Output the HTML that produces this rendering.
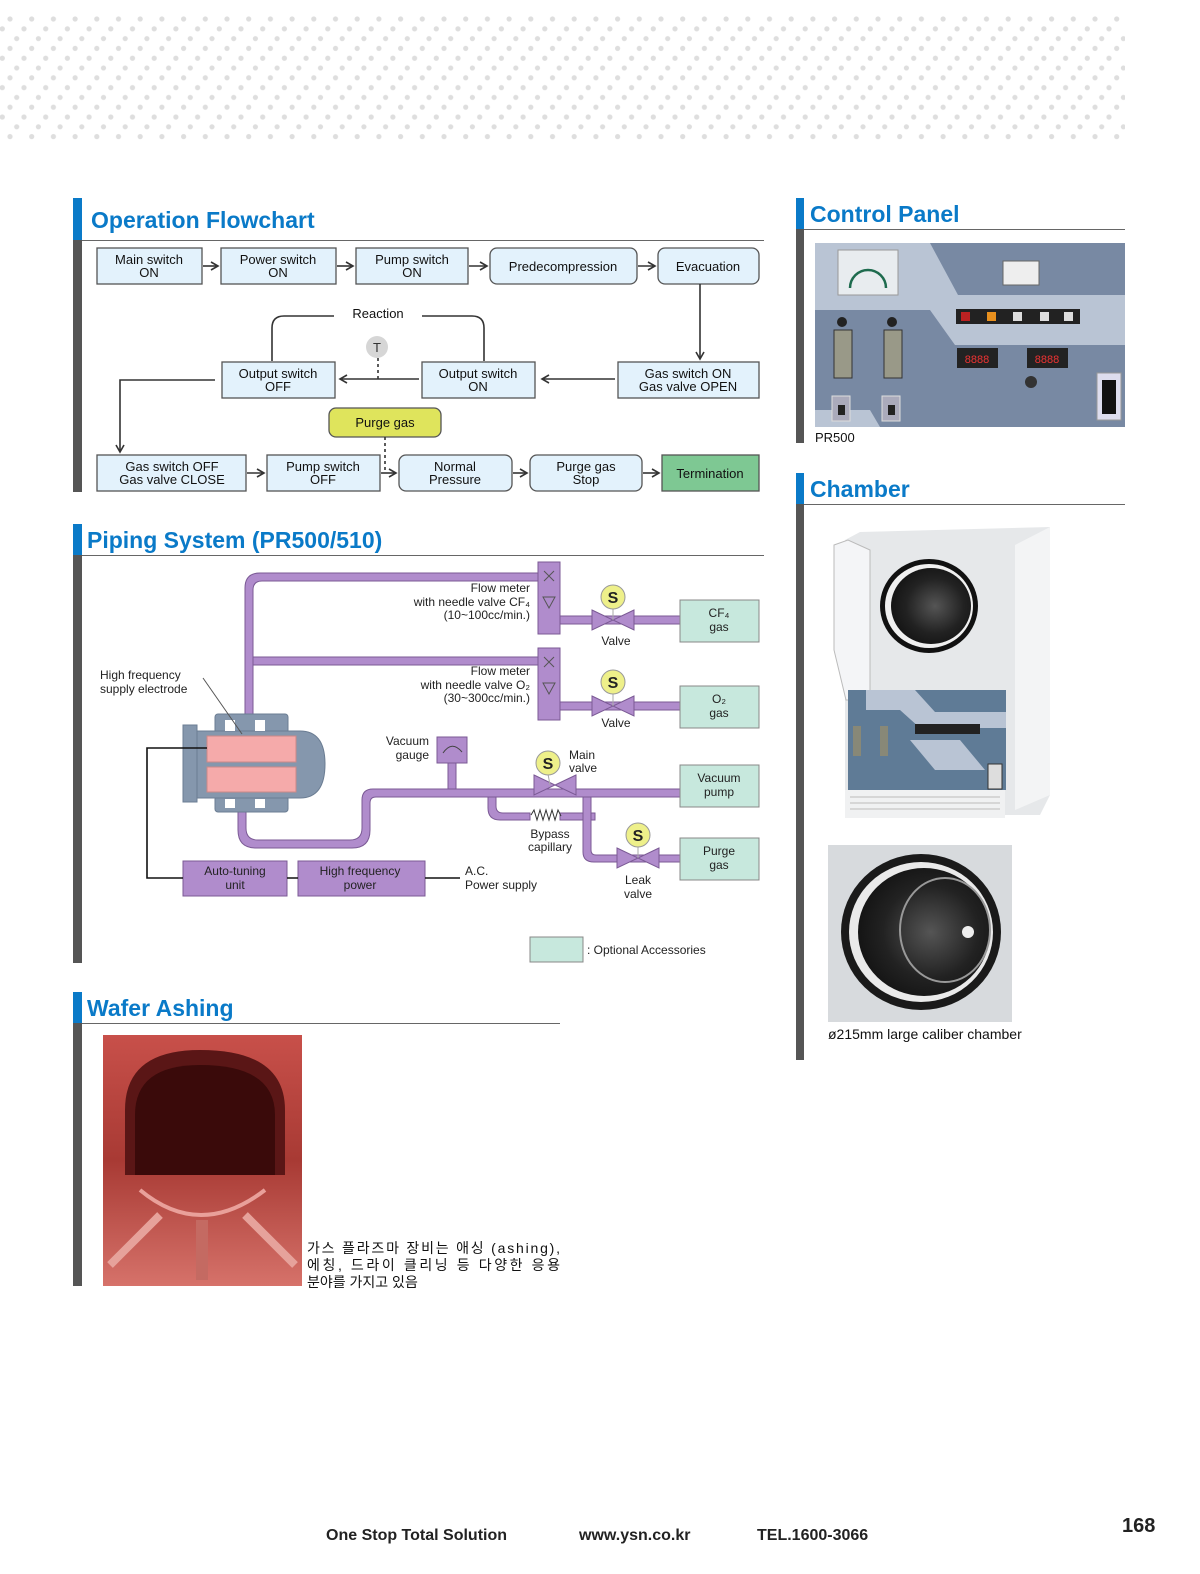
<!DOCTYPE html>
<html><head><meta charset="utf-8"><style>
html,body{margin:0;padding:0;background:#fff}
svg{display:block}
text{font-family:"Liberation Sans",Arial,sans-serif}
</style></head><body>
<svg width="1200" height="1574" viewBox="0 0 1200 1574" xmlns="http://www.w3.org/2000/svg">
<defs>
<pattern id="dots" x="0" y="15" width="21.7" height="29.4" patternUnits="userSpaceOnUse">
<circle cx="10" cy="4" r="2.6" fill="#dedede"/><circle cx="2.3" cy="13.8" r="2.6" fill="#dedede"/><circle cx="24" cy="13.8" r="2.6" fill="#dedede"/><circle cx="16.7" cy="23.6" r="2.6" fill="#dedede"/>
</pattern>
<marker id="ar" markerWidth="10" markerHeight="10" refX="8" refY="5" orient="auto" markerUnits="userSpaceOnUse"><path d="M1,1 L8,5 L1,9" fill="none" stroke="#333" stroke-width="1.6"/></marker>
<radialGradient id="win" cx="0.55" cy="0.5" r="0.6"><stop offset="0" stop-color="#555"/><stop offset="0.6" stop-color="#222"/><stop offset="1" stop-color="#111"/></radialGradient>
<linearGradient id="red" x1="0" y1="0" x2="0" y2="1"><stop offset="0" stop-color="#c8504a"/><stop offset="0.5" stop-color="#a83a34"/><stop offset="1" stop-color="#d6726a"/></linearGradient>
</defs>
<rect x="0" y="15" width="1125" height="125" fill="url(#dots)"/>

<!-- Section bars -->
<rect x="73" y="198" width="9" height="42" fill="#0a7ac8"/><rect x="73" y="240" width="9" height="252" fill="#555"/>
<rect x="73" y="524" width="9" height="31" fill="#0a7ac8"/><rect x="73" y="555" width="9" height="408" fill="#555"/>
<rect x="73" y="992" width="9" height="31" fill="#0a7ac8"/><rect x="73" y="1023" width="9" height="263" fill="#555"/>
<rect x="796" y="198" width="8" height="31" fill="#0a7ac8"/><rect x="796" y="229" width="8" height="214" fill="#555"/>
<rect x="796" y="473" width="8" height="31" fill="#0a7ac8"/><rect x="796" y="504" width="8" height="556" fill="#555"/>
<line x1="82" y1="240.5" x2="764" y2="240.5" stroke="#666"/>
<line x1="82" y1="555.5" x2="764" y2="555.5" stroke="#666"/>
<line x1="82" y1="1023.5" x2="560" y2="1023.5" stroke="#666"/>
<line x1="804" y1="229.5" x2="1125" y2="229.5" stroke="#666"/>
<line x1="804" y1="504.5" x2="1125" y2="504.5" stroke="#666"/>
<g fill="#0a7ac8" font-weight="bold" font-size="23">
<text x="91" y="228">Operation Flowchart</text>
<text x="87" y="548">Piping System (PR500/510)</text>
<text x="87" y="1016">Wafer Ashing</text>
<text x="810" y="222">Control Panel</text>
<text x="810" y="497">Chamber</text>
</g>

<!-- Flowchart -->
<g stroke="#555" stroke-width="1.3" fill="#e3f2fc">
<rect x="97" y="248" width="105" height="36"/>
<rect x="221" y="248" width="115" height="36"/>
<rect x="356" y="248" width="112" height="36"/>
<rect x="490" y="248" width="147" height="36" rx="7"/>
<rect x="658" y="248" width="101" height="36" rx="7"/>
<rect x="222" y="362" width="113" height="36"/>
<rect x="422" y="362" width="113" height="36"/>
<rect x="618" y="362" width="141" height="36"/>
<rect x="97" y="455" width="149" height="36"/>
<rect x="267" y="455" width="113" height="36"/>
<rect x="399" y="455" width="113" height="36" rx="7"/>
<rect x="530" y="455" width="112" height="36" rx="7"/>
<rect x="662" y="455" width="97" height="36" fill="#7ec893"/>
<rect x="329" y="408" width="112" height="29" rx="7" fill="#dfe45c"/>
</g>
<g font-size="13" fill="#111" text-anchor="middle">
<text x="149" y="264">Main switch</text><text x="149" y="277">ON</text>
<text x="278" y="264">Power switch</text><text x="278" y="277">ON</text>
<text x="412" y="264">Pump switch</text><text x="412" y="277">ON</text>
<text x="563" y="271">Predecompression</text>
<text x="708" y="271">Evacuation</text>
<text x="278" y="378">Output switch</text><text x="278" y="391">OFF</text>
<text x="478" y="378">Output switch</text><text x="478" y="391">ON</text>
<text x="688" y="378">Gas switch ON</text><text x="688" y="391">Gas valve OPEN</text>
<text x="172" y="471">Gas switch OFF</text><text x="172" y="484">Gas valve CLOSE</text>
<text x="323" y="471">Pump switch</text><text x="323" y="484">OFF</text>
<text x="455" y="471">Normal</text><text x="455" y="484">Pressure</text>
<text x="586" y="471">Purge gas</text><text x="586" y="484">Stop</text>
<text x="710" y="478">Termination</text>
<text x="385" y="427">Purge gas</text>
<text x="378" y="318">Reaction</text>
</g>
<g stroke="#333" stroke-width="1.6" fill="none">
<line x1="203" y1="266" x2="218" y2="266" marker-end="url(#ar)"/>
<line x1="337" y1="266" x2="353" y2="266" marker-end="url(#ar)"/>
<line x1="469" y1="266" x2="487" y2="266" marker-end="url(#ar)"/>
<line x1="638" y1="266" x2="655" y2="266" marker-end="url(#ar)"/>
<line x1="700" y1="284" x2="700" y2="359" marker-end="url(#ar)"/>
<line x1="615" y1="379" x2="542" y2="379" marker-end="url(#ar)"/>
<line x1="419" y1="379" x2="340" y2="379" marker-end="url(#ar)"/>
<path d="M215,380 H120 V452" marker-end="url(#ar)"/>
<line x1="247" y1="473" x2="264" y2="473" marker-end="url(#ar)"/>
<line x1="381" y1="473" x2="396" y2="473" marker-end="url(#ar)"/>
<line x1="513" y1="473" x2="527" y2="473" marker-end="url(#ar)"/>
<line x1="643" y1="473" x2="659" y2="473" marker-end="url(#ar)"/>
<path d="M272,361 V328 Q272,316 284,316 H334"/>
<path d="M422,316 H472 Q484,316 484,328 V361"/>
<line x1="378" y1="358" x2="378" y2="379" stroke-dasharray="3,3"/>
<line x1="385" y1="437" x2="385" y2="470" stroke-dasharray="3,3"/>
</g>
<circle cx="377" cy="347" r="11" fill="#d6d6d6"/>
<text x="377" y="352" font-size="13" text-anchor="middle" fill="#333">T</text>

<!-- Piping -->
<g stroke="#7b5a95" stroke-width="1" fill="#b08ccc">
<path d="M245,720 V588 Q245,573 260,573 H538 V581 H262 Q253,581 253,590 V720 Z"/>
<rect x="253" y="657" width="285" height="8"/>
<path d="M246,812 V828 Q246,840 258,840 H350 Q362,840 362,828 V800 Q362,789 373,789 H680 V797 H376 Q370,797 370,803 V830 Q370,848 352,848 H256 Q238,848 238,830 V812 Z"/>
<rect x="448" y="762" width="8" height="27"/>
<path d="M496,797 V806 Q496,813 503,813 H530 V820 H500 Q488,820 488,808 V797 Z"/>
<rect x="560" y="813" width="35" height="7"/>
<path d="M591,797 V850 Q591,855 596,855 H680 V862 H594 Q583,862 583,852 V797 Z"/>
<rect x="560" y="616" width="120" height="8"/>
<rect x="560" y="702" width="120" height="8"/>
<rect x="538" y="562" width="22" height="72"/>
<rect x="538" y="648" width="22" height="72"/>
<rect x="437" y="737" width="30" height="26"/>
<rect x="183" y="861" width="104" height="35"/>
<rect x="298" y="861" width="127" height="35"/>
</g>
<polyline points="531,815 534,810 537,820 540,810 543,820 546,810 549,820 552,810 555,820 558,810 561,816" fill="none" stroke="#333" stroke-width="1"/>
<path d="M443,753 Q452,740 462,752" fill="none" stroke="#444"/>
<g stroke="#555" stroke-width="1" fill="none">
<path d="M544,571 L554,581 M554,571 L544,581"/><path d="M543,597 H555 L549,608 Z"/>
<path d="M544,657 L554,667 M554,657 L544,667"/><path d="M543,683 H555 L549,694 Z"/>
</g>
<g fill="#b08ccc" stroke="#7b5a95">
<path d="M592,610 L613,620 L592,630 Z M634,610 L613,620 L634,630 Z"/>
<path d="M592,696 L613,706 L592,716 Z M634,696 L613,706 L634,716 Z"/>
<path d="M534,775 L555,785 L534,795 Z M576,775 L555,785 L576,795 Z"/>
<path d="M617,848 L638,858 L617,868 Z M659,848 L638,858 L659,868 Z"/>
</g>
<g stroke="#aaa"><line x1="613" y1="608" x2="613" y2="620"/><line x1="613" y1="693" x2="613" y2="706"/><line x1="548" y1="774" x2="550" y2="785"/><line x1="638" y1="846" x2="638" y2="858"/></g>
<g fill="#eef08a" stroke="#999">
<circle cx="613" cy="597" r="12"/><circle cx="613" cy="682" r="12"/><circle cx="548" cy="763" r="12"/><circle cx="638" cy="835" r="12"/>
</g>
<g font-size="16" font-weight="bold" text-anchor="middle" fill="#222">
<text x="613" y="603">S</text><text x="613" y="688">S</text><text x="548" y="769">S</text><text x="638" y="841">S</text>
</g>
<g fill="#8597ad" stroke="#6b7d93">
<rect x="215" y="714" width="73" height="20" rx="3"/>
<rect x="215" y="796" width="73" height="16" rx="3"/>
<path d="M197,731 H300 Q325,731 325,764 Q325,798 300,798 H197 Z"/>
<rect x="183" y="725" width="14" height="77"/>
</g>
<rect x="225" y="720" width="10" height="11" fill="#fff"/><rect x="255" y="720" width="10" height="11" fill="#fff"/>
<rect x="225" y="799" width="10" height="9" fill="#fff"/><rect x="255" y="799" width="10" height="9" fill="#fff"/>
<rect x="207" y="736" width="89" height="26" fill="#f5aaaa" stroke="#c88"/>
<rect x="207" y="767" width="89" height="25" fill="#f5aaaa" stroke="#c88"/>
<path d="M207,748 H147 V878 H183 M287,878 H298 M425,878 H460" fill="none" stroke="#111" stroke-width="1.6"/>
<line x1="203" y1="678" x2="242" y2="734" stroke="#555"/>
<g fill="#c7e8dd" stroke="#888">
<rect x="680" y="600" width="79" height="42"/><rect x="680" y="686" width="79" height="42"/>
<rect x="680" y="765" width="79" height="42"/><rect x="680" y="838" width="79" height="42"/>
<rect x="530" y="937" width="53" height="25"/>
</g>
<g font-size="12" fill="#222">
<g text-anchor="middle">
<text x="719" y="617">CF₄</text><text x="719" y="631">gas</text>
<text x="719" y="703">O₂</text><text x="719" y="717">gas</text>
<text x="719" y="782">Vacuum</text><text x="719" y="796">pump</text>
<text x="719" y="855">Purge</text><text x="719" y="869">gas</text>
<text x="616" y="645">Valve</text><text x="616" y="727">Valve</text>
<text x="550" y="838">Bypass</text><text x="550" y="851">capillary</text>
<text x="638" y="884">Leak</text><text x="638" y="898">valve</text>
<text x="235" y="875">Auto-tuning</text><text x="235" y="889">unit</text>
<text x="360" y="875">High frequency</text><text x="360" y="889">power</text>
</g>
<g text-anchor="end">
<text x="530" y="592">Flow meter</text><text x="530" y="606">with needle valve CF₄</text><text x="530" y="619">(10~100cc/min.)</text>
<text x="530" y="675">Flow meter</text><text x="530" y="689">with needle valve O₂</text><text x="530" y="702">(30~300cc/min.)</text>
<text x="429" y="745">Vacuum</text><text x="429" y="759">gauge</text>
</g>
<text x="569" y="759">Main</text><text x="569" y="772">valve</text>
<text x="100" y="679">High frequency</text><text x="100" y="693">supply electrode</text>
<text x="465" y="875">A.C.</text><text x="465" y="889">Power supply</text>
<text x="587" y="954">: Optional Accessories</text>
</g>

<!-- Control panel image -->
<rect x="815" y="243" width="310" height="184" fill="#7889a3"/>
<path d="M815,243 H930 L958,295 H1125 V345 H955 L930,310 H815 Z" fill="#b9c4d4"/>
<path d="M815,410 H870 L880,427 H815 Z" fill="#b9c4d4"/>
<path d="M955,345 L990,390 H1125 V345 Z" fill="#7889a3"/>
<rect x="838" y="250" width="60" height="45" fill="#e8ecef" stroke="#999"/>
<path d="M850,288 A18,18 0 0 1 886,288" fill="none" stroke="#1e6b4e" stroke-width="2.5"/>
<rect x="1003" y="261" width="36" height="24" fill="#eee" stroke="#666"/>
<rect x="956" y="309" width="124" height="15" fill="#222"/>
<rect x="961" y="312" width="9" height="9" fill="#b22"/><rect x="987" y="312" width="9" height="9" fill="#e8901e"/>
<rect x="1013" y="312" width="9" height="9" fill="#ddd"/><rect x="1040" y="312" width="9" height="9" fill="#ddd"/><rect x="1064" y="312" width="9" height="9" fill="#ddd"/>
<rect x="957" y="348" width="41" height="20" fill="#222"/><rect x="1027" y="348" width="41" height="20" fill="#222"/>
<text x="977" y="363" font-size="11" fill="#e33" text-anchor="middle">8888</text>
<text x="1047" y="363" font-size="11" fill="#e33" text-anchor="middle">8888</text>
<circle cx="1031" cy="382" r="6" fill="#333"/>
<rect x="834" y="330" width="18" height="48" fill="#998" stroke="#333"/><rect x="884" y="330" width="18" height="48" fill="#998" stroke="#333"/>
<circle cx="842" cy="322" r="5" fill="#222"/><circle cx="892" cy="322" r="5" fill="#222"/>
<rect x="832" y="396" width="18" height="25" fill="#aab" stroke="#ddd"/><rect x="882" y="396" width="18" height="25" fill="#aab" stroke="#ddd"/>
<rect x="838" y="405" width="7" height="10" fill="#222"/><rect x="888" y="405" width="7" height="10" fill="#222"/>
<rect x="1097" y="373" width="24" height="47" fill="#dde" stroke="#999"/><rect x="1102" y="380" width="14" height="34" fill="#111"/>
<text x="815" y="442" font-size="13" fill="#111">PR500</text>

<!-- Chamber machine -->
<path d="M860,532 L1050,527 V795 L1040,815 H845 V540 Z" fill="#e6e8ea"/>
<path d="M1015,545 L1050,527 V795 L1015,810 Z" fill="#f3f4f5"/>
<path d="M834,545 L848,540 L870,550 V700 H846 L834,650 Z" fill="#f4f5f7" stroke="#bbb"/>
<ellipse cx="929" cy="606" rx="49" ry="47" fill="#111"/>
<ellipse cx="929" cy="606" rx="44" ry="42" fill="#f0f0f0"/>
<ellipse cx="931" cy="606" rx="40" ry="38" fill="url(#win)"/>
<path d="M848,690 H1006 V790 H848 Z" fill="#5f7b96"/>
<path d="M866,690 H915 L935,712 H1006 V728 H920 L900,710 H866 Z" fill="#b9c4d4"/>
<path d="M910,740 H960 L985,770 H935 Z" fill="#b9c4d4"/>
<rect x="915" y="724" width="65" height="10" fill="#222"/>
<rect x="845" y="790" width="160" height="28" fill="#f0f1f2"/>
<g stroke="#bbb"><line x1="850" y1="797" x2="1000" y2="797"/><line x1="850" y1="803" x2="1000" y2="803"/><line x1="850" y1="809" x2="1000" y2="809"/></g>
<rect x="853" y="726" width="8" height="30" fill="#887"/><rect x="880" y="726" width="8" height="30" fill="#887"/>
<rect x="988" y="764" width="14" height="25" fill="#ddd" stroke="#333"/>

<!-- Chamber closeup -->
<rect x="828" y="845" width="184" height="177" fill="#d7dadd"/>
<ellipse cx="921" cy="932" rx="80" ry="78" fill="#1a1a1a"/>
<ellipse cx="921" cy="932" rx="72" ry="70" fill="#eaeaea"/>
<ellipse cx="924" cy="932" rx="66" ry="64" fill="url(#win)"/>
<ellipse cx="945" cy="930" rx="45" ry="52" fill="none" stroke="#999" stroke-width="2"/>
<circle cx="968" cy="932" r="6" fill="#eee"/>
<text x="828" y="1039" font-size="14" fill="#111">ø215mm large caliber chamber</text>

<!-- Wafer photo -->
<rect x="103" y="1035" width="199" height="251" fill="url(#red)"/>
<path d="M125,1175 V1110 Q125,1050 200,1050 Q285,1050 285,1110 V1175 Z" fill="#5a1616"/>
<path d="M135,1175 V1115 Q135,1065 200,1065 Q275,1065 275,1115 V1175 Z" fill="#3a0a0a"/>
<path d="M140,1190 Q200,1240 265,1190" fill="none" stroke="#e9a09a" stroke-width="4"/>
<path d="M110,1265 L160,1215 M295,1265 L245,1215" stroke="#e6a29b" stroke-width="8"/>
<rect x="196" y="1220" width="12" height="60" fill="#c46a62"/>
<g font-size="14" fill="#111" font-family="'Liberation Sans','Noto Serif CJK SC','Noto Sans CJK KR',sans-serif">
<text x="307" y="1253" textLength="253">가스 플라즈마 장비는 애싱 (ashing),</text>
<text x="307" y="1270" textLength="253">에칭, 드라이 클리닝 등 다양한 응용</text>
<text x="307" y="1287">분야를 가지고 있음</text>
</g>

<!-- Footer -->
<g font-size="16" font-weight="bold" fill="#222">
<text x="326" y="1540">One Stop Total Solution</text>
<text x="579" y="1540">www.ysn.co.kr</text>
<text x="757" y="1540">TEL.1600-3066</text>
<text x="1122" y="1532" font-size="20">168</text>
</g>
</svg>
</body></html>
